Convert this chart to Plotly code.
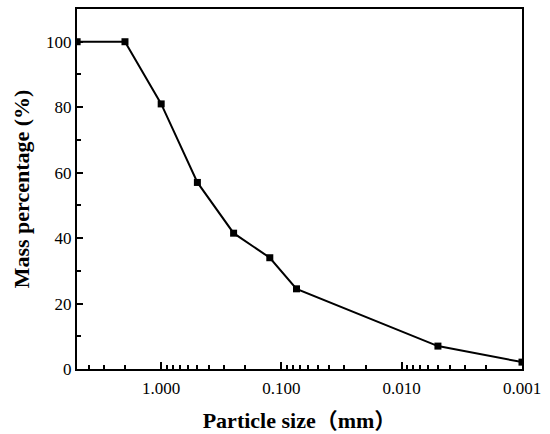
import plotly.graph_objects as go

# particle size (mm) and cumulative mass passing (%)
size_mm = [5.0, 2.0, 1.0, 0.5, 0.25, 0.125, 0.075, 0.005, 0.001]
mass_pct = [100, 100, 81, 57, 41.5, 34, 24.5, 7, 2.1]

tick_vals = [1, 0.1, 0.01, 0.001]
tick_text = ["1.000", "0.100", "0.010", "0.001"]
minor_vals = [m * 10.0 ** e for e in range(-3, 1) for m in range(2, 10)] + [2, 3, 4]

fig = go.Figure()
fig.add_trace(go.Scatter(x=size_mm, y=mass_pct, mode="lines+markers",
                         line=dict(color="black", width=2),
                         marker=dict(symbol="square", size=7, color="black"),
                         cliponaxis=True, showlegend=False))

fnt = "Liberation Serif, Times New Roman, Noto Sans CJK SC"

fig.update_xaxes(type="log", range=[0.7, -3], tickmode="array",
                 tickvals=tick_vals, ticktext=tick_text,
                 ticks="inside", ticklen=7, tickwidth=2, tickcolor="black",
                 minor=dict(tickmode="array", tickvals=minor_vals, ticks="inside",
                            ticklen=4, tickwidth=1.5, tickcolor="black"),
                 showline=True, linewidth=2, linecolor="black", mirror=True,
                 showgrid=False, zeroline=False, ticklabelstandoff=3, automargin=False,
                 tickfont=dict(family=fnt, size=17, color="black"),
                 title=dict(text="<b>Particle size（mm）</b>",
                            font=dict(family=fnt, size=22, color="black"), standoff=15))
fig.update_yaxes(range=[0, 110], tickvals=[0, 20, 40, 60, 80, 100],
                 ticks="inside", ticklen=6, tickwidth=2, tickcolor="black",
                 minor=dict(tickvals=[10, 30, 50, 70, 90], ticks="inside",
                            ticklen=4, tickwidth=1.5, tickcolor="black"),
                 showline=True, linewidth=2, linecolor="black", mirror=True,
                 showgrid=False, zeroline=False, automargin=False,
                 tickfont=dict(family=fnt, size=17, color="black"),
                 title=dict(text="<b>Mass percentage (%)</b>",
                            font=dict(family=fnt, size=22, color="black"), standoff=10))

fig.update_layout(width=550, height=434, plot_bgcolor="white", paper_bgcolor="white",
                  margin=dict(l=77, r=28, t=9, b=65))

fig.write_html("out.html", config={"displayModeBar": False},
               post_script="document.body.style.margin='0';")
